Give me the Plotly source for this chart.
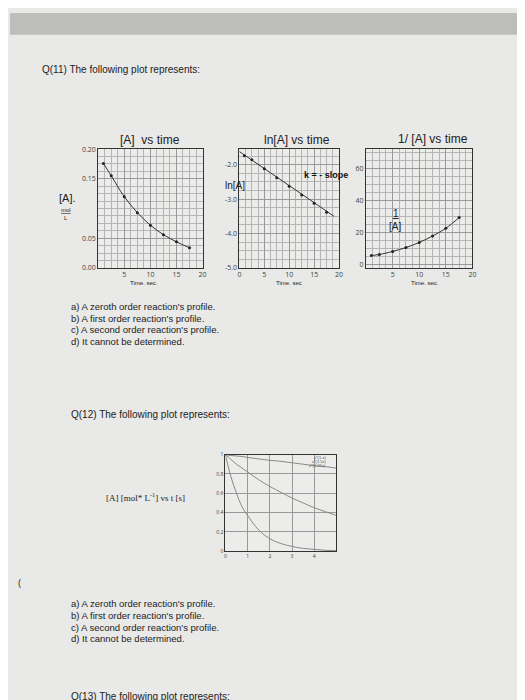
import plotly.graph_objects as go

t = [1, 2.5, 5, 7.5, 10, 12.5, 15, 17.5]
conc = [0.176, 0.155, 0.120, 0.093, 0.072, 0.056, 0.044, 0.034]
ln_conc = [-1.74, -1.86, -2.12, -2.38, -2.63, -2.88, -3.12, -3.38]
inv_conc = [5.7, 6.4, 8.3, 10.7, 13.9, 17.9, 22.7, 29.4]
ln_line_t = [0, 19]
ln_line_v = [-1.62, -3.50]

t2 = [0, 0.25, 0.5, 0.75, 1, 1.5, 2, 2.5, 3, 3.5, 4, 4.5, 5]
slow = [1.0, 0.99, 0.985, 0.98, 0.97, 0.955, 0.94, 0.93, 0.915, 0.9, 0.885, 0.875, 0.86]
mid = [1.0, 0.95, 0.9, 0.86, 0.82, 0.74, 0.67, 0.61, 0.55, 0.5, 0.45, 0.41, 0.37]
fast = [1.0, 0.77, 0.6, 0.46, 0.37, 0.22, 0.13, 0.08, 0.05, 0.03, 0.02, 0.01, 0.006]

fig = go.Figure()
ink = "#333"
fine = dict(color=ink, width=1)

def ax(n, dom_x, dom_y, xr, yr, xt, yt, xminor, yminor, ytext=None):
    s = "" if n == 1 else str(n)
    fig.layout["xaxis" + s] = dict(domain=dom_x, range=xr, anchor="y" + s, tickvals=xt,
        showgrid=True, gridcolor="#999", gridwidth=0.6, showline=True, linecolor=ink, mirror=True,
        minor=dict(dtick=xminor, showgrid=True, gridcolor="#b5b5b5", gridwidth=0.4),
        zeroline=False, tickfont=dict(size=7, color="#444"))
    fig.layout["yaxis" + s] = dict(domain=dom_y, range=yr, anchor="x" + s, tickvals=yt, ticktext=ytext,
        showgrid=True, gridcolor="#999", gridwidth=0.6, showline=True, linecolor=ink, mirror=True,
        minor=dict(dtick=yminor, showgrid=True, gridcolor="#b5b5b5", gridwidth=0.4),
        zeroline=False, tickfont=dict(size=7, color="#444"))

ax(1, [0.170, 0.371], [0.631, 0.803], [0, 20], [0, 0.20], [5, 10, 15, 20], [0, 0.05, 0.15, 0.20], 1.25, 0.0125,
   ["0.00", "0.05", "0.15", "0.20"])
ax(2, [0.442, 0.634], [0.631, 0.803], [0, 20], [-5, -1.55], [0, 5, 10, 15, 20], [-5, -4, -3, -2], 1.25, 0.25,
   ["-5.0", "-4.0", "-3.0", "-2.0"])
ax(3, [0.686, 0.891], [0.631, 0.803], [0, 20], [-2, 72], [5, 10, 15, 20], [0, 20, 40, 60], 1.25, 5)
ax(4, [0.415, 0.629], [0.221, 0.361], [0, 5], [0, 1], [0, 1, 2, 3, 4], [0, 0.2, 0.4, 0.6, 0.8, 1], 1, 0.2)
fig.layout.xaxis4.tickfont.size = 5
fig.layout.yaxis4.tickfont.size = 5

mk = dict(size=3, color="#222")
fig.add_trace(go.Scatter(x=t, y=conc, mode="lines+markers", line=fine, marker=mk, line_shape="spline", xaxis="x", yaxis="y"))
fig.add_trace(go.Scatter(x=ln_line_t, y=ln_line_v, mode="lines", line=fine, xaxis="x2", yaxis="y2"))
fig.add_trace(go.Scatter(x=t, y=ln_conc, mode="markers", marker=mk, xaxis="x2", yaxis="y2"))
fig.add_trace(go.Scatter(x=t, y=inv_conc, mode="lines+markers", line=fine, marker=mk, line_shape="spline", xaxis="x3", yaxis="y3"))
for s in [slow, mid, fast]:
    fig.add_trace(go.Scatter(x=t2, y=s, mode="lines", line=dict(color="#888", width=1), line_shape="spline", xaxis="x4", yaxis="y4"))

A = []
def txt(x, y, s, size=9, family="Liberation Sans", anchor="left", color="#222"):
    A.append(dict(x=x / 525, y=1 - y / 700, xref="paper", yref="paper", text=s, showarrow=False,
                  xanchor=anchor, yanchor="middle", font=dict(size=size, family=family, color=color)))

txt(30, 57, "Q(11) The following plot represents:", 10)
txt(142, 129, "[A]  vs time", 12, anchor="center")
txt(290, 129, "ln[A] vs time", 12, anchor="center")
txt(428, 128, "1/ [A] vs time", 12, anchor="center")
txt(48, 187, "[A].", 11)
txt(50, 200, "<u>mol</u>", 6)
txt(53, 208, "L", 6)
txt(215, 175, "ln[A]", 10)
txt(320, 164, "<b>k = - slope</b>", 9, anchor="center", color="#111")
txt(385, 203, "<u>1</u>", 10)
txt(381, 216, "[A]", 10)
txt(136, 274, "Time. sec.", 6, anchor="center")
txt(282, 274, "Time. sec", 6, anchor="center")
txt(420, 274, "Time. sec.", 6, anchor="center")
opts = ["a) A zeroth order reaction's profile.", "b) A first order reaction's profile.",
        "c) A second order reaction's profile.", "d) It cannot be determined."]
for i, o in enumerate(opts):
    txt(60, 297 + i * 12, o, 9.5)
txt(60, 407, "Q(12) The following plot represents:", 10)
txt(95, 490, "[A] [mol* L<sup>-1</sup>] vs t [s]", 9, family="Liberation Serif")
for i, o in enumerate(opts):
    txt(60, 598 + i * 12, o, 9.5)
txt(60, 692, "Q(13) The following plot represents:", 10)
txt(6, 577, "(", 9)
txt(322, 450, "x*(1-x)", 4, anchor="right", color="#555")
txt(322, 454, "x*(1.5x)", 4, anchor="right", color="#555")
txt(322, 458, "x*(1.05x)", 4, anchor="right", color="#555")

fig.update_layout(width=525, height=700, margin=dict(l=0, r=0, t=0, b=0), showlegend=False,
                  paper_bgcolor="#e9e9e7", plot_bgcolor="#ececea", annotations=A,
                  shapes=[dict(type="rect", xref="paper", yref="paper", x0=0, x1=1, y0=1 - 22 / 700, y1=1,
                               fillcolor="#bdbdbb", line_width=0, layer="below")])
fig.write_html("out.html")
